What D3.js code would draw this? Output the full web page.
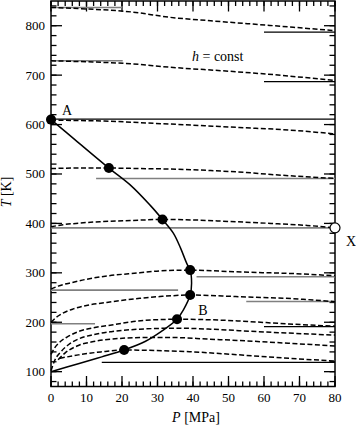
<!DOCTYPE html>
<html>
<head>
<meta charset="utf-8">
<script src="https://cdn.jsdelivr.net/npm/d3@7"></script>
<style>
  body { margin: 0; background: #fff; }
</style>
</head>
<body>
<div id="chart"></div>
<script>
// isenthalps (h = const), [P MPa, T K]
var isenthalps = [
  [[0,837],[10,834],[22.5,828],[33.5,817],[45,810],[61,801],[80,790]],
  [[0,729],[10,727],[22.5,723],[33.5,716],[50,708],[61,702],[80,689]],
  [[0,609],[15,607],[33.5,601],[53,594],[67,589],[80,581]],
  [[0,511],[8,512],[16.3,512],[25,511],[33.5,510],[45,507],[55,503],[62,499],[80,491]],
  [[0,393],[3,397],[7,400],[13.8,403.5],[23,406],[31.4,408],[40,407],[50,404],[62,400],[72,396],[80,391]],
  [[0,267],[2,273],[6.3,281],[10,287],[15.7,293.6],[25,300],[30.7,304],[39.2,305.5],[52,302],[71,297.6],[80,294]],
  [[0,200],[1.5,210],[3.5,219],[6.3,227],[10,234],[15.7,240],[25,248.5],[30.7,252],[39.2,255],[52,252],[71,246.5],[80,241.6]],
  [[0,135],[1,148],[2.5,160],[4.5,170],[7.7,181],[12,189],[17.1,194.5],[26.5,204],[35.5,206],[45,205],[53,202.5],[67,196.5],[80,192]],
  [[0,102],[1,122],[3,142],[5,155],[7.7,166],[12,175],[17,181],[25,186],[35,188],[45,186],[53,183],[67,178],[80,174]],
  [[2,124],[4,138],[7.7,153],[12,161],[17,166],[26.5,169],[35,169],[44,166],[53,163],[67,157.5],[80,152]],
  [[2.5,127],[7.7,134],[14,140],[20.6,144],[25,143.5],[39,140.5],[53,134],[67,127],[80,121.6]]
];

// inversion curve
var inversion = [[0,610],[6.8,569],[16.3,512],[22.3,478],[27.9,437],[31.4,408],[34.5,380],[36.5,350],
  [38.3,318],[39.2,305.5],[39.6,279],[39.2,255],[37.3,225],[35.5,206],[31,181],[26.5,161],
  [20.6,144],[14.3,130],[7.7,116],[0,100]];

var inversionDots = [[0,610],[16.3,512],[31.4,408],[39.2,305.5],[39.2,255],[35.5,206],[20.6,144]];
var openDot = [80,391];

// horizontal reference segments [P from, P to, T]
var grayLines = [[0,20,837],[0,20.2,729],[12.7,80,491],[0,80,391],[0,35.8,265],[41,80,292],[0,12.4,197],[55,80,242]];
var blackLines = [[60,80,787],[60,80,687],[0,80,611],[60,80,191],[14.3,80,119]];

var labels = [["A",0,610],["B",39.2,255],["X",80,391]];

var xMajor = [0,10,20,30,40,50,60,70,80];
var yMajor = [100,200,300,400,500,600,700,800];

var W = 356, H = 426;
var svg = d3.select("#chart").append("svg").attr("width", W).attr("height", H)
  .style("font-family", "'Liberation Serif'");

var x = d3.scaleLinear().domain([0,80]).range([51,335]);
var y = d3.scaleLinear().domain([70,850]).range([386.5,1]);

var xMinor = d3.range(0,81,2), yMinor = d3.range(80,850,20);

// frame with ticks
function ticks(g, vals, len, side) {
  vals.forEach(function(v) {
    if (side === "left") g.append("line").attr("x1",x(0)).attr("x2",x(0)+len).attr("y1",y(v)).attr("y2",y(v));
    if (side === "right") g.append("line").attr("x1",x(80)).attr("x2",x(80)-len).attr("y1",y(v)).attr("y2",y(v));
    if (side === "bottom") g.append("line").attr("x1",x(v)).attr("x2",x(v)).attr("y1",y(70)).attr("y2",y(70)-len);
    if (side === "top") g.append("line").attr("x1",x(v)).attr("x2",x(v)).attr("y1",y(850)).attr("y2",y(850)+len);
  });
}
var ax = svg.append("g").attr("stroke","#000").attr("stroke-width",1.3);
["left","right"].forEach(function(s){ ticks(ax, yMinor, 5.5, s); ticks(ax, yMajor, 11, s); });
["bottom","top"].forEach(function(s){ ticks(ax, xMinor, 5, s); ticks(ax, xMajor, 10.5, s); });
svg.append("rect").attr("x",x(0)).attr("y",y(850)).attr("width",x(80)-x(0)).attr("height",y(70)-y(850))
  .attr("fill","none").attr("stroke","#000").attr("stroke-width",1.5);

svg.selectAll(".ylab").data(yMajor).enter().append("text")
  .attr("x",45).attr("y",function(d){return y(d)+4.5;}).attr("text-anchor","end")
  .attr("font-size",13).text(function(d){return d;});
svg.selectAll(".xlab").data(xMajor).enter().append("text")
  .attr("x",function(d){return x(d);}).attr("y",402).attr("text-anchor","middle")
  .attr("font-size",13).text(function(d){return d;});

var xt = svg.append("text").attr("x",196).attr("y",422).attr("text-anchor","middle").attr("font-size",14);
xt.append("tspan").attr("font-style","italic").text("P");
xt.append("tspan").text(" [MPa]");
var yt = svg.append("text").attr("transform","translate(11,192) rotate(-90)").attr("text-anchor","middle").attr("font-size",14);
yt.append("tspan").attr("font-style","italic").text("T");
yt.append("tspan").text(" [K]");

// reference lines
svg.selectAll(".gl").data(grayLines).enter().append("line")
  .attr("x1",function(d){return x(d[0]);}).attr("x2",function(d){return x(d[1]);})
  .attr("y1",function(d){return y(d[2]);}).attr("y2",function(d){return y(d[2]);})
  .attr("stroke","#808080").attr("stroke-width",1.6);
svg.selectAll(".bl").data(blackLines).enter().append("line")
  .attr("x1",function(d){return x(d[0]);}).attr("x2",function(d){return x(d[1]);})
  .attr("y1",function(d){return y(d[2]);}).attr("y2",function(d){return y(d[2]);})
  .attr("stroke","#000").attr("stroke-width",1.2);

var line = d3.line().x(function(d){return x(d[0]);}).y(function(d){return y(d[1]);});

svg.selectAll(".iso").data(isenthalps).enter().append("path")
  .attr("d", line.curve(d3.curveMonotoneX))
  .attr("fill","none").attr("stroke","#000").attr("stroke-width",1.5).attr("stroke-dasharray","5,2.5");

svg.append("path").datum(inversion)
  .attr("d", line.curve(d3.curveCatmullRom.alpha(0.5)))
  .attr("fill","none").attr("stroke","#000").attr("stroke-width",1.5);

svg.selectAll(".dot").data(inversionDots).enter().append("circle")
  .attr("cx",function(d){return x(d[0]);}).attr("cy",function(d){return y(d[1]);}).attr("r",5).attr("fill","#000");
svg.append("circle").attr("cx",x(openDot[0])).attr("cy",y(openDot[1])).attr("r",5)
  .attr("fill","#fff").attr("stroke","#000").attr("stroke-width",1.2);

var off = {A:[11,-5], B:[8,20], X:[11,18]};
svg.selectAll(".lab").data(labels).enter().append("text")
  .attr("x",function(d){return x(d[1])+off[d[0]][0];}).attr("y",function(d){return y(d[2])+off[d[0]][1];})
  .attr("font-size",14).text(function(d){return d[0];});

var hc = svg.append("text").attr("x",192).attr("y",61).attr("font-size",14);
hc.append("tspan").attr("font-style","italic").text("h");
hc.append("tspan").text(" = const");
</script>
</body>
</html>
